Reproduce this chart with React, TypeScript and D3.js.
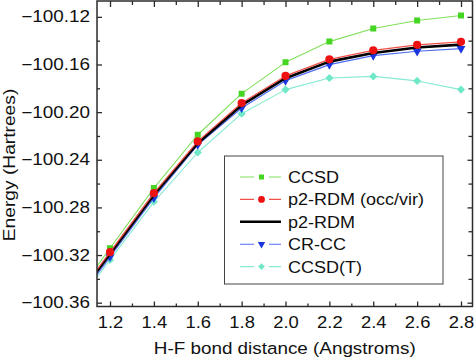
import React, { useEffect, useRef } from "react";
import * as d3 from "d3";

// bond distances (Angstroms); 1.0 sits left of the visible frame and only feeds the line ends
const distances = [1.0, 1.2, 1.4, 1.6, 1.8, 2.0, 2.2, 2.4, 2.6, 2.8];

const ccsd = [-100.3648, -100.3143, -100.2638, -100.219, -100.1845, -100.1582, -100.1408, -100.1298, -100.1231, -100.1189];
const p2rdmOccVir = [-100.3672, -100.3176, -100.268, -100.2246, -100.1923, -100.1696, -100.1557, -100.1481, -100.1435, -100.141];
const p2rdm = [-100.3685, -100.319, -100.2695, -100.2261, -100.1942, -100.1715, -100.1576, -100.1504, -100.1458, -100.1433];
const crcc = [-100.3712, -100.3216, -100.272, -100.2274, -100.1965, -100.1736, -100.1601, -100.1525, -100.1489, -100.1467];
const ccsdT = [-100.3729, -100.3241, -100.2753, -100.2339, -100.2013, -100.1811, -100.1713, -100.17, -100.1738, -100.1811];

const xTicks = [1.2, 1.4, 1.6, 1.8, 2.0, 2.2, 2.4, 2.6, 2.8];
const yTicks = [-100.36, -100.32, -100.28, -100.24, -100.2, -100.16, -100.12];

const legendLabels = ["CCSD", "p2-RDM (occ/vir)", "p2-RDM", "CR-CC", "CCSD(T)"];

type Series = {
  name: string;
  values: number[];
  line: string;
  fill: string;
  width: number;
  marker: "square" | "circle" | "none" | "tri" | "diamond";
};

const FONT = "'Liberation Sans', Arial, Helvetica, sans-serif";

export default function App() {
  const svgRef = useRef<SVGSVGElement>(null);
  const width = 474;
  const height = 364;

  useEffect(() => {
    if (!svgRef.current) return;
    const svg = d3.select(svgRef.current);
    svg.selectAll("*").remove();

    const left = 97;
    const right = 472.5;
    const top = 1;
    const bottom = 306.5;

    const x = d3.scaleLinear().domain([1.1407, 2.8524]).range([left, right]);
    const y = d3.scaleLinear().domain([-100.3632, -100.1067]).range([bottom, top]);

    const series: Series[] = [
      { name: legendLabels[0], values: ccsd, line: "#80e05c", fill: "#45d623", width: 1.1, marker: "square" },
      { name: legendLabels[1], values: p2rdmOccVir, line: "#f0504a", fill: "#ee1111", width: 1.2, marker: "circle" },
      { name: legendLabels[2], values: p2rdm, line: "#000000", fill: "#000000", width: 2.6, marker: "none" },
      { name: legendLabels[3], values: crcc, line: "#4f6cf0", fill: "#1a35de", width: 1.2, marker: "tri" },
      { name: legendLabels[4], values: ccsdT, line: "#86ead4", fill: "#6fe8c8", width: 1.1, marker: "diamond" },
    ];

    const symbolFor = (m: Series["marker"], small: boolean) => {
      const k = small ? 0.7 : 1;
      if (m === "square") return d3.symbol(d3.symbolSquare, 36 * k)();
      if (m === "circle") return d3.symbol(d3.symbolCircle, 52 * k)();
      if (m === "tri") return d3.symbol(d3.symbolTriangle, 34 * k)();
      if (m === "diamond") return d3.symbol(d3.symbolSquare, 33 * k)();
      return "";
    };
    const rotFor = (m: Series["marker"]) => (m === "tri" ? 180 : m === "diamond" ? 45 : 0);

    svg
      .append("defs")
      .append("clipPath")
      .attr("id", "plot-clip")
      .append("rect")
      .attr("x", left)
      .attr("y", top)
      .attr("width", right - left)
      .attr("height", bottom - top);

    const plot = svg.append("g").attr("clip-path", "url(#plot-clip)");

    const line = d3
      .line<number>()
      .x((_d, i) => x(distances[i]))
      .y((d) => y(d));

    // draw order: cyan, green, blue, black, red
    const order = [4, 0, 3, 2, 1];
    order.forEach((si) => {
      const s = series[si];
      plot
        .append("path")
        .datum(s.values)
        .attr("fill", "none")
        .attr("stroke", s.line)
        .attr("stroke-width", s.width)
        .attr("stroke-linejoin", "round")
        .attr("d", line);
      if (s.marker !== "none") {
        plot
          .selectAll(null)
          .data(s.values)
          .enter()
          .append("path")
          .attr("d", symbolFor(s.marker, false))
          .attr("fill", s.fill)
          .attr(
            "transform",
            (d, i) => `translate(${x(distances[i])},${y(d)}) rotate(${rotFor(s.marker)})`,
          );
      }
    });

    // axes: all ticks point inward
    const frameColor = "#2b2b2b";
    const minorX = d3.range(1.3, 2.85, 0.2);
    const minorY = d3.range(-100.34, -100.1, 0.04);

    const bottomAxis = svg
      .append("g")
      .attr("transform", `translate(0,${bottom})`)
      .call(d3.axisBottom(x).tickValues(xTicks).tickSize(-5).tickPadding(10.6).tickFormat(d3.format(".1f")));
    bottomAxis
      .selectAll("text")
      .attr("transform", "scale(1.15,1)")
      .style("font-family", FONT)
      .style("font-size", "16px")
      .style("fill", "#111");

    const leftAxis = svg
      .append("g")
      .attr("transform", `translate(${left},0)`)
      .call(d3.axisLeft(y).tickValues(yTicks).tickSize(-5).tickPadding(6).tickFormat(d3.format(".2f")));
    leftAxis
      .selectAll("text")
      .attr("transform", "scale(1.18,1)")
      .style("font-family", FONT)
      .style("font-size", "16px")
      .style("fill", "#111");

    const topAxis = svg
      .append("g")
      .attr("transform", `translate(0,${top})`)
      .call(d3.axisTop(x).tickValues(xTicks).tickSize(-6).tickFormat(() => ""));
    const rightAxis = svg
      .append("g")
      .attr("transform", `translate(${right},0)`)
      .call(d3.axisRight(y).tickValues(yTicks).tickSize(-5).tickFormat(() => ""));

    svg.append("g").attr("transform", `translate(0,${bottom})`)
      .call(d3.axisBottom(x).tickValues(minorX).tickSize(-3).tickFormat(() => ""));
    svg.append("g").attr("transform", `translate(0,${top})`)
      .call(d3.axisTop(x).tickValues(minorX).tickSize(-4).tickFormat(() => ""));
    svg.append("g").attr("transform", `translate(${left},0)`)
      .call(d3.axisLeft(y).tickValues(minorY).tickSize(-3).tickFormat(() => ""));
    svg.append("g").attr("transform", `translate(${right},0)`)
      .call(d3.axisRight(y).tickValues(minorY).tickSize(-4).tickFormat(() => ""));

    svg.selectAll(".domain").remove();
    svg.selectAll(".tick line").style("stroke", frameColor).style("stroke-width", 1.3);
    void topAxis;
    void rightAxis;

    svg
      .append("rect")
      .attr("x", left)
      .attr("y", top)
      .attr("width", right - left)
      .attr("height", bottom - top)
      .attr("fill", "none")
      .attr("stroke", frameColor)
      .attr("stroke-width", 1.5);

    // axis titles
    svg
      .append("text")
      .attr("transform", `translate(${(left + right) / 2},354) scale(1.11,1)`)
      .attr("text-anchor", "middle")
      .style("font-family", FONT)
      .style("font-size", "17px")
      .style("fill", "#111")
      .text("H-F bond distance (Angstroms)");

    svg
      .append("text")
      .attr("transform", "translate(15,165) rotate(-90) scale(1.13,1)")
      .attr("text-anchor", "middle")
      .style("font-family", FONT)
      .style("font-size", "17px")
      .style("fill", "#111")
      .text("Energy (Hartrees)");

    // legend
    const lg = svg.append("g");
    lg.append("rect")
      .attr("x", 224.5)
      .attr("y", 156)
      .attr("width", 218.5)
      .attr("height", 128)
      .attr("fill", "#fff")
      .attr("stroke", "#444")
      .attr("stroke-width", 1);

    series.forEach((s, i) => {
      const cy = 177 + i * 22.4;
      const row = lg.append("g").attr("transform", `translate(0,${cy})`);
      row
        .append("line")
        .attr("x1", 240)
        .attr("x2", 281)
        .attr("stroke", s.line)
        .attr("stroke-width", s.marker === "none" ? 2.6 : 1.1);
      if (s.marker !== "none") {
        row
          .append("rect")
          .attr("x", 254)
          .attr("y", -4)
          .attr("width", 15)
          .attr("height", 8)
          .attr("fill", "#fff");
        row
          .append("path")
          .attr("d", symbolFor(s.marker, true))
          .attr("fill", s.fill)
          .attr("transform", `translate(261.5,0) rotate(${rotFor(s.marker)})`);
      }
      row
        .append("text")
        .attr("transform", "translate(288,6) scale(1.06,1)")
        .style("font-family", FONT)
        .style("font-size", "17px")
        .style("fill", "#111")
        .text(s.name);
    });
  }, []);

  return (
    <svg
      ref={svgRef}
      width={width}
      height={height}
      style={{ position: "absolute", left: 0, top: 0, background: "#fff" }}
    />
  );
}
